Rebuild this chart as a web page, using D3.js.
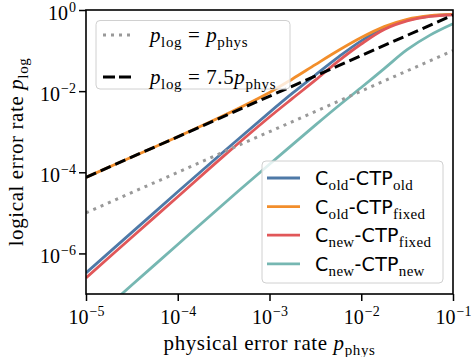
<!DOCTYPE html>
<html><head><meta charset="utf-8">
<script src="https://cdn.jsdelivr.net/npm/d3@7"></script>
<style>body{margin:0;background:#fff} svg{display:block}</style>
</head><body><svg id="c" width="474" height="357"></svg>
<script>
// ---- data ----
const pPhys    = [1e-5, 3.16e-5, 1e-4, 3.16e-4, 1e-3, 1.78e-3, 3.16e-3, 5.62e-3, 1e-2, 1.78e-2, 3.16e-2, 5.62e-2, 1e-1];
const oldOld   = [3.3e-7, 3.3e-6, 3.3e-5, 3.2e-4, 3.0e-3, 8.9e-3, 2.5e-2, 6.9e-2, 0.174, 0.363, 0.56, 0.71, 0.77];
const oldFixed = [7.5e-5, 2.37e-4, 7.5e-4, 2.5e-3, 9.3e-3, 2.0e-2, 4.5e-2, 0.10, 0.209, 0.389, 0.589, 0.724, 0.776];
const newFixed = [2.5e-7, 2.5e-6, 2.5e-5, 2.5e-4, 2.3e-3, 6.6e-3, 1.86e-2, 5.5e-2, 0.145, 0.331, 0.537, 0.692, 0.76];
const newNew   = [1.66e-8, 1.66e-7, 1.66e-6, 1.66e-5, 1.58e-4, 4.8e-4, 1.45e-3, 4.3e-3, 1.23e-2, 3.6e-2, 0.105, 0.24, 0.457];
const refX        = [1e-5, 1e-1];
const refIdentity = [1e-5, 1e-1];
const refScaled   = [7.5e-5, 0.75];
const xTicks   = [1e-5, 1e-4, 1e-3, 1e-2, 1e-1];
const xTickExp = ["−5", "−4", "−3", "−2", "−1"];
const yTicks   = [1, 1e-2, 1e-4, 1e-6];
const yTickExp = ["0", "−2", "−4", "−6"];
const seriesNames = [["old","old"],["old","fixed"],["new","fixed"],["new","new"]];
const seriesColors = ["#4e79a7", "#f28e2b", "#e15759", "#76b7b2"];

// ---- layout ----
const L = 86, R = 453, T = 10, B = 294;
const SERIF = "'Liberation Serif','Times New Roman',serif";
const SANS = "'DejaVu Sans',sans-serif";
const svg = d3.select("#c");
const x = d3.scaleLog().domain([1e-5, 1e-1]).range([L, R]);
const y = d3.scaleLog().domain([1e-7, 1]).range([B, T]);

svg.append("defs").append("clipPath").attr("id","clip")
  .append("rect").attr("x",L).attr("y",T).attr("width",R-L).attr("height",B-T);

const line = d3.line().x(d=>x(d[0])).y(d=>y(d[1])).curve(d3.curveCatmullRom.alpha(0.5));
const plot = svg.append("g").attr("clip-path","url(#clip)");
[oldOld, oldFixed, newFixed, newNew].forEach((s,i)=>{
  plot.append("path").datum(pPhys.map((p,j)=>[p,s[j]]))
    .attr("d", line).attr("fill","none").attr("stroke", seriesColors[i])
    .attr("stroke-width", 2.8).attr("stroke-linecap","butt");
});
plot.append("path").datum(refX.map((p,j)=>[p,refIdentity[j]]))
  .attr("d", d3.line().x(d=>x(d[0])).y(d=>y(d[1])))
  .attr("fill","none").attr("stroke","#999").attr("stroke-width",3).attr("stroke-dasharray","3,5");
plot.append("path").datum(refX.map((p,j)=>[p,refScaled[j]]))
  .attr("d", d3.line().x(d=>x(d[0])).y(d=>y(d[1])))
  .attr("fill","none").attr("stroke","#000").attr("stroke-width",3).attr("stroke-dasharray","11,5");

// frame
svg.append("rect").attr("x",L).attr("y",T).attr("width",R-L).attr("height",B-T)
  .attr("fill","none").attr("stroke","#000").attr("stroke-width",1.6);

// axes
const gx = svg.append("g").attr("transform",`translate(0,${B})`)
  .call(d3.axisBottom(x).tickValues(xTicks).tickSize(7).tickFormat(""));
const gy = svg.append("g").attr("transform",`translate(${L},0)`)
  .call(d3.axisLeft(y).tickValues(yTicks).tickSize(7).tickFormat(""));
[gx, gy].forEach(g=>{
  g.select(".domain").remove();
  g.selectAll(".tick line").attr("stroke","#000").attr("stroke-width",1.5);
});
function powLabel(g, exp, anchor, xx, yy){
  const t = g.append("text").attr("x",xx).attr("y",yy).attr("text-anchor",anchor)
    .attr("font-family",SERIF).attr("font-size",20).attr("fill","#000");
  t.append("tspan").text("10");
  t.append("tspan").attr("font-size",14).attr("dy",-8).attr("dx",1).text(exp);
}
gx.selectAll(".tick").each(function(d,i){ powLabel(d3.select(this), xTickExp[i], "middle", 0, 30); });
gy.selectAll(".tick").each(function(d,i){ powLabel(d3.select(this), yTickExp[i], "end", -10, 9); });

// text with subscripts
function labelWithSub(g, parts, attrs){
  const t = g.append("text").attr("font-family",SERIF).attr("fill","#000")
    .attr("font-size",21).attr("letter-spacing",0.6);
  Object.entries(attrs).forEach(([k,v])=>t.attr(k,v));
  parts.forEach(p=>{
    const ts = t.append("tspan").text(p.t);
    if(p.i) ts.attr("font-style","italic");
    if(p.sub){ ts.attr("font-size",15).attr("dy",5); }
    if(p.back){ ts.attr("dy",-5); }
    if(p.f) ts.attr("font-family",p.f);
    if(p.fs) ts.attr("font-size",p.fs);
  });
  return t;
}
labelWithSub(svg, [{t:"physical error rate "},{t:"p",i:true},{t:"phys",sub:true}],
  {x:(L+R)/2, y:350, "text-anchor":"middle"});
labelWithSub(svg, [{t:"logical error rate "},{t:"p",i:true},{t:"log",sub:true}],
  {transform:`translate(23,${(T+B)/2}) rotate(-90)`, "text-anchor":"middle"});

// legend 1
const lg1 = svg.append("g");
lg1.append("rect").attr("x",96).attr("y",20.5).attr("width",194).attr("height",68.5).attr("rx",4)
  .attr("fill","#fff").attr("fill-opacity",0.8).attr("stroke","#d0d0d0").attr("stroke-width",1);
lg1.append("line").attr("x1",103).attr("x2",133).attr("y1",35).attr("y2",35)
  .attr("stroke","#999").attr("stroke-width",3).attr("stroke-dasharray","3,5");
lg1.append("line").attr("x1",103).attr("x2",133).attr("y1",77).attr("y2",77)
  .attr("stroke","#000").attr("stroke-width",3).attr("stroke-dasharray","12,4");
labelWithSub(lg1, [{t:"p",i:true},{t:"log",sub:true},{t:" = ",back:true},{t:"p",i:true},{t:"phys",sub:true}], {x:150,y:42});
labelWithSub(lg1, [{t:"p",i:true},{t:"log",sub:true},{t:" = 7.5",back:true},{t:"p",i:true},{t:"phys",sub:true}], {x:150,y:84});

// legend 2
const lg2 = svg.append("g");
lg2.append("rect").attr("x",262).attr("y",161).attr("width",181).attr("height",122).attr("rx",4)
  .attr("fill","#fff").attr("fill-opacity",0.8).attr("stroke","#d0d0d0").attr("stroke-width",1);
seriesNames.forEach((nm,i)=>{
  const yy = 178 + i*28.6;
  lg2.append("line").attr("x1",267).attr("x2",300).attr("y1",yy).attr("y2",yy)
    .attr("stroke",seriesColors[i]).attr("stroke-width",2.8);
  labelWithSub(lg2, [{t:"C",f:SANS,fs:19},{t:nm[0],sub:true},{t:"-CTP",f:SANS,fs:19,back:true},{t:nm[1],sub:true}],
    {x:315,y:yy+7,"letter-spacing":0.3});
});
</script></body></html>
